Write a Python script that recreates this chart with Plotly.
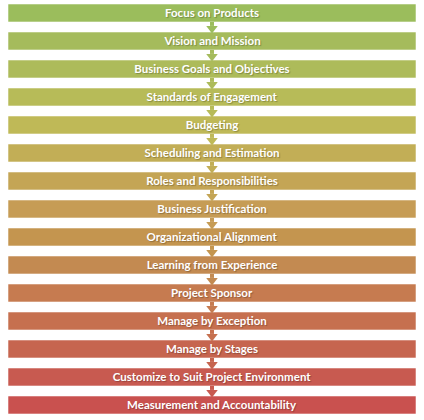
import plotly.graph_objects as go

steps = [
    "Focus on Products",
    "Vision and Mission",
    "Business Goals and Objectives",
    "Standards of Engagement",
    "Budgeting",
    "Scheduling and Estimation",
    "Roles and Responsibilities",
    "Business Justification",
    "Organizational Alignment",
    "Learning from Experience",
    "Project Sponsor",
    "Manage by Exception",
    "Manage by Stages",
    "Customize to Suit Project Environment",
    "Measurement and Accountability",
]
values = [1] * len(steps)
colors = [
    "#9bbd5c", "#a5bb5c", "#adbb5a", "#b7bb58", "#bfb957",
    "#c2ae56", "#c4a555", "#c69c55", "#c4954f", "#c38a51",
    "#c67b50", "#c6704f", "#c6654f", "#c85a50", "#c9514f",
]

pos = list(range(len(steps)))
arrow_pos = pos[:-1]

fig = go.Figure()
fig.add_trace(go.Bar(
    x=values, y=pos, orientation="h", width=0.643,
    marker=dict(color=colors, line=dict(color="rgba(255,255,255,0.55)", width=1)),
    text=steps, textposition="inside", insidetextanchor="middle",
    constraintext="none",
    textfont=dict(family="Lato", size=11.5, color="white", weight="bold",
                  shadow="1px 1px 1px rgba(0,0,0,0.25)"),
    hoverinfo="skip",
))
# arrow stems
fig.add_trace(go.Scatter(
    x=[0.5] * len(arrow_pos), y=[p + 0.39 for p in arrow_pos], mode="markers",
    marker=dict(symbol="square", size=4, color=colors[:-1], line=dict(width=0)),
    hoverinfo="skip",
))
# arrow heads
fig.add_trace(go.Scatter(
    x=[0.5] * len(arrow_pos), y=[p + 0.55 for p in arrow_pos], mode="markers",
    marker=dict(symbol="triangle-down", size=10, color=colors[:-1], line=dict(width=0)),
    hoverinfo="skip",
))

fig.update_layout(
    width=424, height=420,
    margin=dict(l=8, r=8, t=0, b=0),
    paper_bgcolor="white", plot_bgcolor="white",
    showlegend=False,
    xaxis=dict(range=[0, 1], visible=False, fixedrange=True),
    yaxis=dict(range=[14.536, -0.464], visible=False, fixedrange=True),
)
fig.write_html("out.html", config={"displayModeBar": False},
               post_script="document.body.style.margin='0';")
